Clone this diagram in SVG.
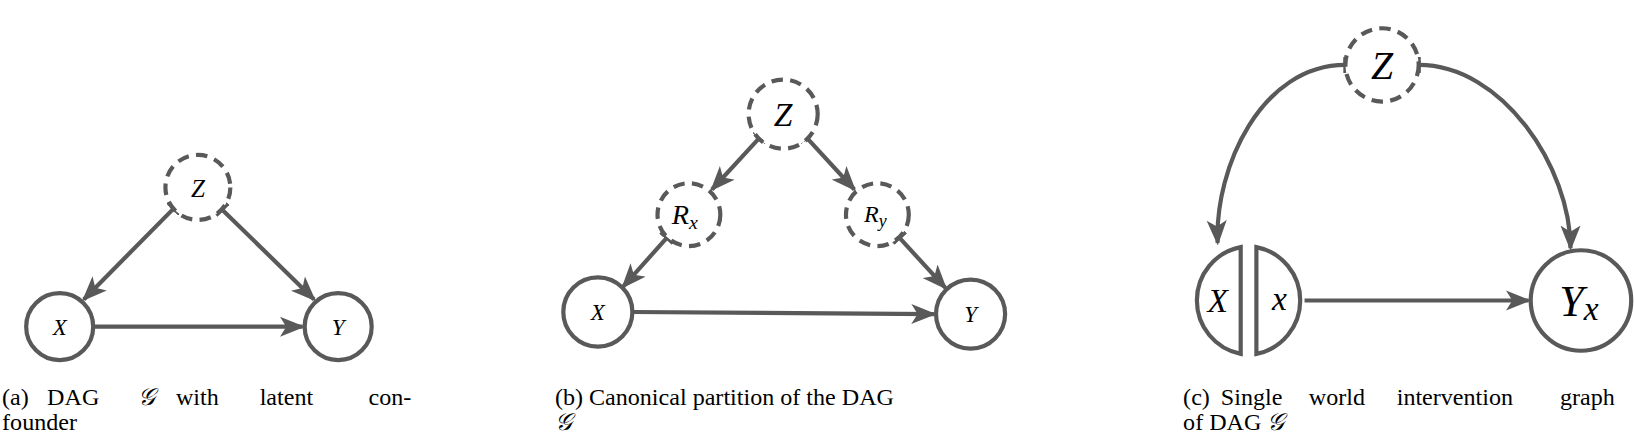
<svg xmlns="http://www.w3.org/2000/svg" width="1634" height="441" viewBox="0 0 1634 441">
<style>
.n{fill:#fff;stroke:#595959;stroke-width:4}
.d{fill:#fff;stroke:#595959;stroke-width:4;stroke-dasharray:11 7}
.e{fill:none;stroke:#595959;stroke-width:4;marker-end:url(#ah);marker-start:url(#bar)}
.e2{fill:none;stroke:#595959;stroke-width:4;marker-end:url(#ah)}
.l{font-family:"Liberation Serif",serif;font-style:italic;fill:#000;text-anchor:middle}
.c{font-family:"Liberation Serif",serif;font-size:23px;fill:#000}
</style>
<defs>
<marker id="ah" viewBox="0 0 20 16" refX="18" refY="8" markerWidth="6" markerHeight="5" markerUnits="strokeWidth" orient="auto">
<path d="M0,0 L20,8 L0,16 L5,8 Z" fill="#595959"/>
</marker>
<marker id="bar" viewBox="0 0 4 16" refX="2" refY="8" markerWidth="1" markerHeight="4" markerUnits="strokeWidth" orient="auto">
<rect x="0" y="0" width="4" height="16" fill="#595959"/>
</marker>
</defs>
<g transform="scale(1.047)">
<g id="connectors">
<path class="e" d="M166,199 L80,286"/>
<path class="e" d="M212,200 L300,286"/>
<path class="e2" d="M89,312 L289,312"/>
<path class="e" d="M726,131 L680,181"/>
<path class="e" d="M770,131 L816,181"/>
<path class="e" d="M637,227 L595,274"/>
<path class="e" d="M859,227 L903,275"/>
<path class="e2" d="M604,298 L892,300"/>
<path class="e" d="M1285,62 C1205,62 1160,160 1163,232"/>
<path class="e" d="M1355,62 C1435,62 1500,160 1500,237"/>
<path class="e2" d="M1246,287 L1460,287"/>
</g>
<g id="a_Z"><circle class="d" cx="189" cy="179" r="31"/><text class="l" x="189" y="188" font-size="24">Z</text></g>
<g id="a_X"><circle class="n" cx="57" cy="312" r="32"/><text class="l" x="57" y="320" font-size="22">X</text></g>
<g id="a_Y"><circle class="n" cx="323" cy="312" r="32"/><text class="l" x="323" y="320" font-size="22">Y</text></g>
<g id="b_Z"><circle class="d" cx="748" cy="109" r="33"/><text class="l" x="748" y="120" font-size="32">Z</text></g>
<g id="b_Rx"><circle class="d" cx="658" cy="205" r="30"/><text class="l" x="654" y="214" font-size="27">R<tspan font-size="19" dy="5">x</tspan></text></g>
<g id="b_Ry"><circle class="d" cx="838" cy="205" r="30"/><text class="l" x="836" y="212" font-size="23">R<tspan font-size="17" dy="5">y</tspan></text></g>
<g id="b_X"><circle class="n" cx="571" cy="298" r="33"/><text class="l" x="571" y="306" font-size="22">X</text></g>
<g id="b_Y"><circle class="n" cx="927" cy="300" r="33"/><text class="l" x="927" y="308" font-size="22">Y</text></g>
<g id="c_Z"><circle class="d" cx="1320" cy="62" r="35"/><text class="l" x="1320" y="75" font-size="38">Z</text></g>
<g id="c_X">
<path class="n" d="M1185,236 A52,52 0 0 0 1185,338 Z"/>
<path class="n" d="M1200,236 A52,52 0 0 1 1200,338 Z"/>
<text class="l" x="1163" y="298" font-size="32">X</text>
<text class="l" x="1222" y="296" font-size="32">x</text>
</g>
<g id="c_Yx"><circle class="n" cx="1510" cy="287" r="48"/><text class="l" x="1508" y="302" font-size="42">Y<tspan font-size="32" dy="4">x</tspan></text></g>
<g id="captions">
<text class="c" y="387"><tspan x="2">(a)</tspan><tspan x="45">DAG</tspan><tspan x="132" font-style="italic">𝒢</tspan><tspan x="168">with</tspan><tspan x="248">latent</tspan><tspan x="352">con-</tspan></text>
<text class="c" x="2" y="411">founder</text>
<text class="c" x="530" y="387">(b) Canonical partition of the DAG</text>
<text class="c" x="530" y="411" font-style="italic">𝒢</text>
<text class="c" y="387"><tspan x="1130">(c)</tspan><tspan x="1166">Single</tspan><tspan x="1250">world</tspan><tspan x="1334">intervention</tspan><tspan x="1490">graph</tspan></text>
<text class="c" x="1130" y="411">of DAG <tspan font-style="italic">𝒢</tspan></text>
</g>
</g>
</svg>
